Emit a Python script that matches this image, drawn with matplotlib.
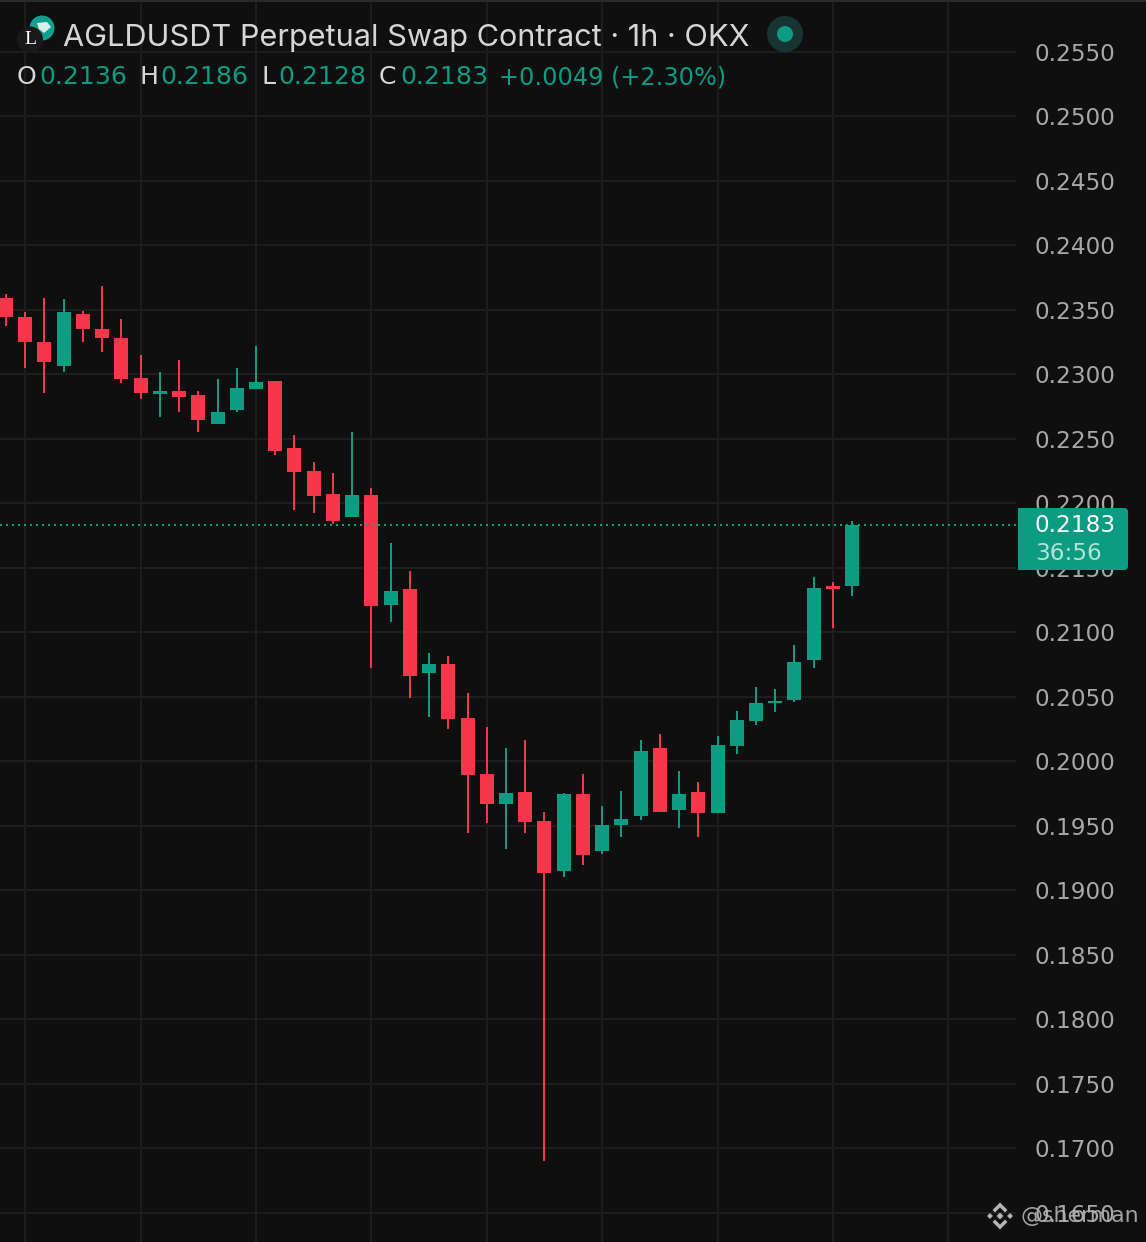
import matplotlib
matplotlib.use("Agg")
import matplotlib.pyplot as plt
from matplotlib.patches import Circle, Rectangle, FancyBboxPatch, Polygon
import numpy as np

# ---- data -------------------------------------------------------------
opens = [.23587,.23440,.23246,.23060,.23463,.23347,.23277,.22967,.22843,.22866,
         .22835,.22610,.22719,.22881,.22943,.22424,.22246,.22067,.21889,.22060,
         .21207,.21331,.20680,.20750,.20331,.19897,.19664,.19757,.19533,.19145,
         .19742,.19300,.19502,.19571,.20098,.19618,.19757,.19595,.20114,.20308,
         .20447,.20471,.20781,.21354,.2136]
highs = [.23618,.23478,.23587,.23579,.23486,.23680,.23424,.23145,.23013,.23106,
         .22866,.22959,.23044,.23215,.22943,.22525,.22316,.22230,.22548,.22114,
         .21688,.21471,.20835,.20812,.20525,.20261,.20098,.20161,.19602,.19750,
         .19897,.19649,.19765,.20161,.20207,.19920,.19835,.20191,.20385,.20571,
         .20556,.20897,.21424,.21385,.2186]
lows  = [.23370,.23044,.22850,.23013,.23246,.23168,.22928,.22804,.22664,.22703,
         .22548,.22610,.22703,.22881,.22370,.21943,.21920,.21835,.21889,.20719,
         .21075,.20486,.20339,.20246,.19440,.19517,.19316,.19440,.16897,.19098,
         .19192,.19277,.19409,.19540,.19602,.19478,.19409,.19595,.20052,.20277,
         .20378,.20455,.20719,.21029,.2128]
closes= [.23440,.23246,.23091,.23478,.23347,.23277,.22959,.22850,.22866,.22819,
         .22641,.22703,.22889,.22936,.22401,.22238,.22052,.21858,.22060,.21199,
         .21316,.20657,.20750,.20323,.19889,.19664,.19750,.19525,.19129,.19742,
         .19269,.19502,.19548,.20075,.19602,.19742,.19595,.20122,.20316,.20447,
         .20463,.20765,.21339,.21331,.2183]
price_ticks = [.165,.170,.175,.180,.185,.190,.195,.200,.205,.210,.215,.220,
               .225,.230,.235,.240,.245,.250,.255]
time_grid = [1,7,13,19,25,31,37,43,49]
last_price = 0.2183
last_label = "0.2183"
countdown = "36:56"
title = "AGLDUSDT Perpetual Swap Contract · 1h · OKX"
ohlc_segments = [("O",17,"w"),("0.2136",39,"g"),("H",139,"w"),("0.2186",160,"g"),
                 ("L",261,"w"),("0.2128",278,"g"),("C",379,"w"),("0.2183",400,"g"),
                 ("+0.0049 (+2.30%)",499,"g")]

# ---- style ------------------------------------------------------------
BG = "#0f0f0f"; UP = "#0b9c82"; DOWN = "#f6364a"; GRID = "#1d1d1d"
TXT = "#a8a8a8"; W, H = 1146, 1242; DPI = 100
px = 72 / DPI
plt.rcParams["font.family"] = ["Inter", "DejaVu Sans"]
NUM = ["DejaVu Sans"]

fig = plt.figure(figsize=(W/DPI, H/DPI), dpi=DPI, facecolor=BG)
ax = fig.add_axes([0, 0, 1016/W, 1], facecolor=BG)
ax.set_xlim(-0.31, 52.52)
ax.set_ylim(0.16272, 0.25900)
for s in ax.spines.values():
    s.set_visible(False)
ax.yaxis.tick_right()
ax.set_yticks(price_ticks)
ax.set_yticklabels([f"{t:.4f}" for t in price_ticks], family=NUM)
ax.set_xticks(time_grid)
ax.set_xticklabels([])
ax.tick_params(axis="both", length=0)
ax.tick_params(axis="y", pad=19*px, labelsize=16.7, labelcolor=TXT)
ax.grid(True, color=GRID, lw=2*px, zorder=0)
ax.set_axisbelow(True)

x = np.arange(len(opens))
o, h, l, c = map(np.array, (opens, highs, lows, closes))
colors = [UP if cc >= oo else DOWN for oo, cc in zip(o, c)]
ax.vlines(x, l, h, colors=colors, lw=2*px, zorder=2)
bot = np.minimum(o, c); hgt = np.abs(c - o)
ax.bar(x, hgt, bottom=bot, width=14/19.23, color=colors, lw=0, zorder=3)
ax.axhline(last_price, color=UP, lw=2*px, ls=(0, (1, 2)), zorder=4)

# ---- overlay in pixel coordinates -------------------------------------
ov = fig.add_axes([0, 0, 1, 1], facecolor="none", zorder=5)
ov.set_xlim(0, W); ov.set_ylim(H, 0); ov.axis("off")

# lighter strip along the top edge of the pane
ov.add_patch(Rectangle((0, 0), W, 2, fc="#2a2a2a", ec="none"))

# price tag
ov.add_patch(FancyBboxPatch((1022, 512), 102, 54, boxstyle="round,pad=4,rounding_size=4",
                            fc=UP, ec="none"))
ov.add_patch(Rectangle((1018, 508), 12, 62, fc=UP, ec="none"))
ov.text(1035, 525.5, last_label, color="white", fontsize=16.7, family=NUM, va="center", ha="left")
ov.text(1035, 553.5, countdown, color="#b5e1d9", fontsize=16.7, family=NUM, va="center", ha="left")

# header
ov.text(63, 37.5, title, color="#d6d6d6", fontsize=22.1, va="center", ha="left")
for t, xp, kind in ohlc_segments:
    ov.text(xp, 77, t, color="#d6d6d6" if kind == "w" else UP,
            fontsize=17.3 if t.startswith("+") else 18.1,
            family=NUM, va="center", ha="left")

# symbol logos
ov.add_patch(Circle((42, 28), 12.5, fc="#11a08d", ec="none"))
ov.add_patch(Polygon([[37,23],[47,22],[51,27],[44,33],[39,29]], fc="#d8efeb", ec="none"))
ov.add_patch(Circle((30, 39.5), 13, fc="#191919", ec="none"))
ov.text(30.5, 39.5, "L", color="white", fontsize=14, family="Liberation Serif", ha="center", va="center")

# market status dot
ov.add_patch(Circle((785, 34), 18, fc="#183430", ec="none"))
ov.add_patch(Circle((785, 34), 8, fc=UP, ec="none"))

# watermark
wm = "#b4b4b4"
cx, cy = 1000, 1216
for dx, r in [(-10,3),(10,3),(0,3.5)]:
    ov.add_patch(Polygon([[cx+dx,cy-r],[cx+dx+r,cy],[cx+dx,cy+r],[cx+dx-r,cy]], fc=wm, ec="none"))
for sgn in (-1, 1):
    ov.add_patch(Polygon([[cx-7.5,cy+sgn*6],[cx,cy+sgn*13.5],[cx+7.5,cy+sgn*6],
                          [cx+5,cy+sgn*3.5],[cx,cy+sgn*8.5],[cx-5,cy+sgn*3.5]],
                         fc=wm, ec="none"))
ov.text(1020, 1216, "@sherman", color=wm, alpha=.9, fontsize=15.8,
        family=NUM, va="center", ha="left")

fig.savefig("out.png", dpi=DPI, facecolor=BG)
